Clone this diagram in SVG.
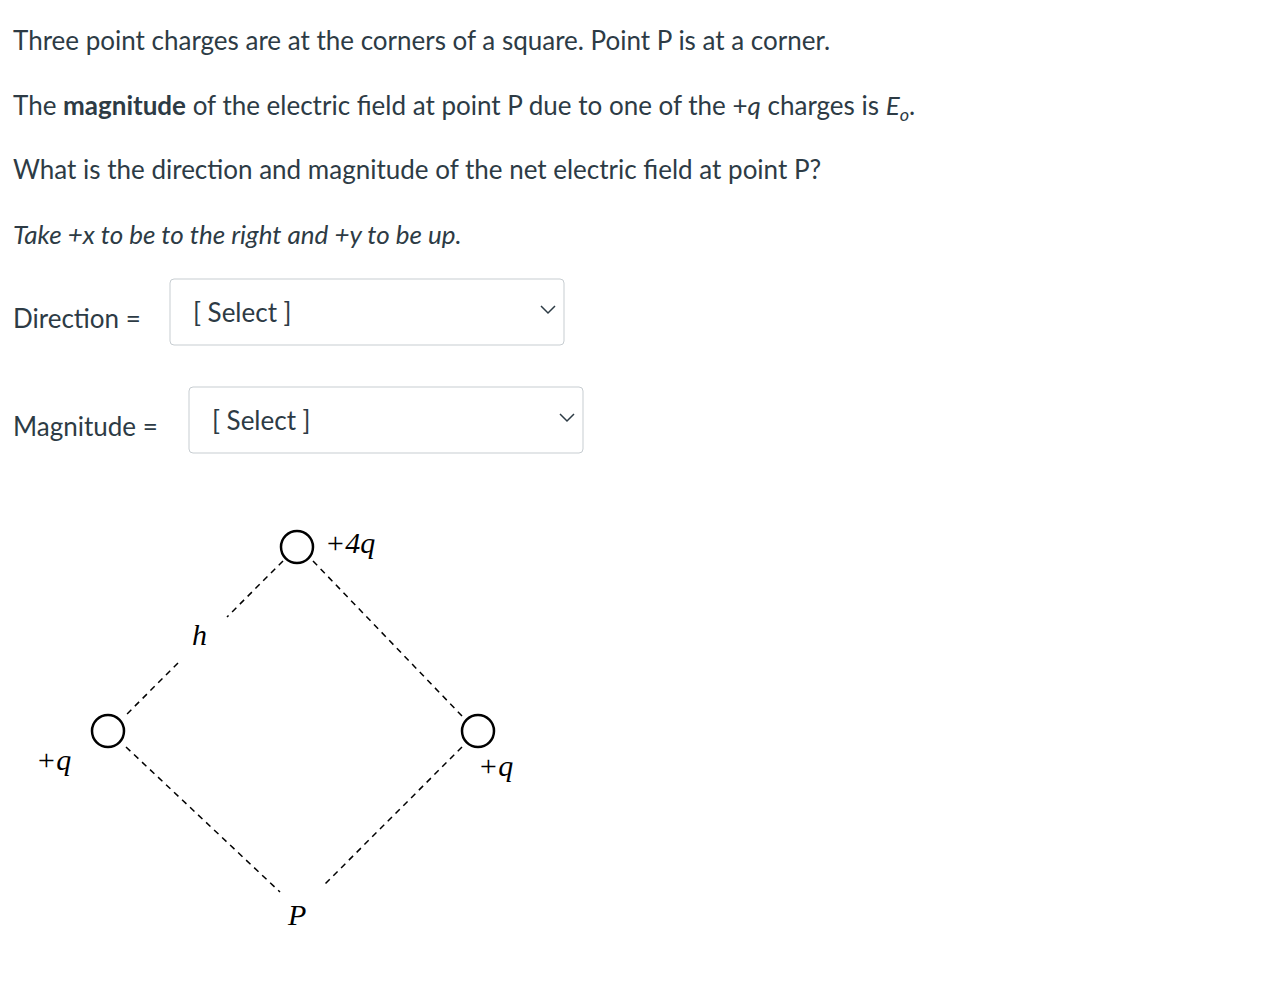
<svg xmlns="http://www.w3.org/2000/svg" width="1278" height="996" viewBox="0 0 1278 996">
<style>
.t{font-family:Lato,"Open Sans",sans-serif;font-size:26px;fill:#2d3b45}
.m{font-family:"Liberation Serif","DejaVu Serif",serif;font-size:30px;fill:#000;font-style:italic}
.box{fill:#fff;stroke:#c7cdd1;stroke-width:1}
.d{stroke:#000;stroke-width:1.5;stroke-dasharray:6,5;fill:none}
.c{fill:#fff;stroke:#000;stroke-width:2.5}
</style>
<rect width="1278" height="996" fill="#fff"/>
<text class="t" x="13" y="50">Three point charges are at the corners of a square. Point P is at a corner.</text>
<text class="t" x="13" y="115">The <tspan font-weight="bold">magnitude</tspan> of the electric field at point P due to one of the +<tspan font-style="italic">q</tspan> charges is <tspan font-style="italic">E</tspan><tspan font-style="italic" font-size="18" dy="6">o</tspan><tspan dy="-6">.</tspan></text>
<text class="t" x="13" y="179">What is the direction and magnitude of the net electric field at point P?</text>
<text class="t" x="13" y="244" font-style="italic">Take +x to be to the right and +y to be up.</text>
<g id="direction">
<text class="t" x="13" y="328">Direction =</text>
<rect class="box" x="170" y="279" width="394" height="66" rx="4"/>
<text class="t" x="193" y="322" font-size="25">[ Select ]</text>
<path d="M541 306l7 7 7-7" fill="none" stroke="#2d3b45" stroke-width="1.5"/>
</g>
<g id="magnitude">
<text class="t" x="13" y="436">Magnitude =</text>
<rect class="box" x="189" y="387" width="394" height="66" rx="4"/>
<text class="t" x="212" y="430" font-size="25">[ Select ]</text>
<path d="M560 414l7 7 7-7" fill="none" stroke="#2d3b45" stroke-width="1.5"/>
</g>
<g id="connectors">
<line class="d" x1="283" y1="561" x2="227" y2="617"/>
<line class="d" x1="178" y1="663" x2="124" y2="717"/>
<line class="d" x1="313" y1="561" x2="462" y2="716"/>
<line class="d" x1="126" y1="747" x2="280" y2="892"/>
<line class="d" x1="462" y1="747" x2="322" y2="887"/>
</g>
<g id="q4"><circle class="c" cx="297" cy="547" r="16"/><text class="m" x="325" y="553" font-style="normal">+4<tspan font-style="italic">q</tspan></text></g>
<g id="qleft"><circle class="c" cx="108" cy="731" r="16"/><text class="m" x="36" y="770" font-style="normal">+<tspan font-style="italic">q</tspan></text></g>
<g id="qright"><circle class="c" cx="478" cy="731" r="16"/><text class="m" x="478" y="776" font-style="normal">+<tspan font-style="italic">q</tspan></text></g>
<g id="h"><text class="m" x="192" y="645">h</text></g>
<g id="P"><text class="m" x="288" y="925">P</text></g>
</svg>
